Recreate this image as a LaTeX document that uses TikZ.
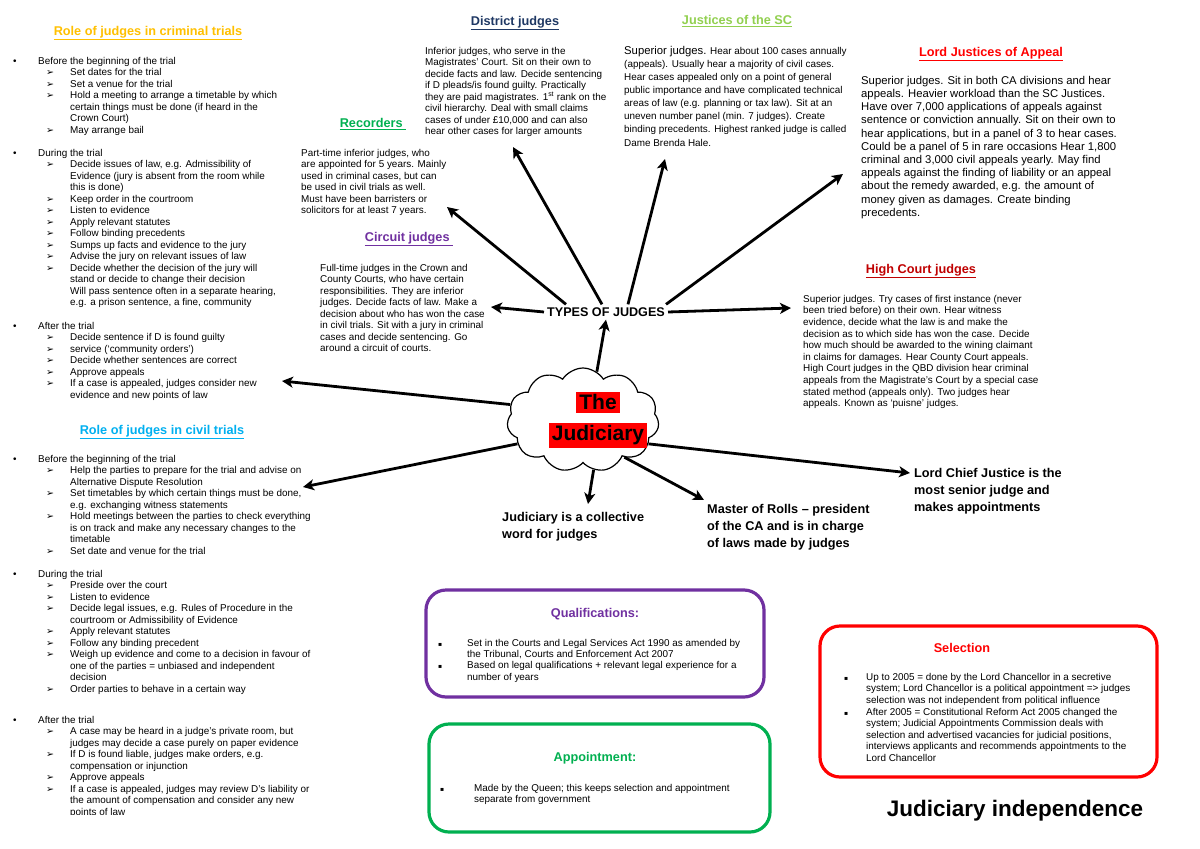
\documentclass[tikz,border=0pt]{standalone}
\usepackage{fontspec}
\setmainfont{Liberation Sans}
\newfontfamily\djv{DejaVu Sans}
\usetikzlibrary{shapes.symbols,arrows.meta}
\definecolor{orangeT}{HTML}{FFC000}
\definecolor{blueT}{HTML}{00B0F0}
\definecolor{navyT}{HTML}{1F3864}
\definecolor{greenT}{HTML}{00B050}
\definecolor{purpleT}{HTML}{7030A0}
\definecolor{limeT}{HTML}{92D050}
\definecolor{redT}{HTML}{FF0000}
\definecolor{darkredT}{HTML}{C00000}
\newcommand\arrg{{\djv\fontsize{9.5}{9.5}\selectfont ➢}}
\newcommand\sqb{{\djv\fontsize{6}{6}\selectfont ▪}}
\newcommand\lbul[1]{\makebox[25pt][l]{\textbullet}#1}
\newcommand\larr[1]{\hspace*{33pt}\makebox[24pt][l]{\arrg}#1}
\newcommand\lcon[1]{\hspace*{57pt}#1}
\newcommand\qbul[1]{\makebox[29pt][l]{\sqb}#1}
\newcommand\qcon[1]{\hspace*{29pt}#1}
\newcommand\sbul[1]{\makebox[22pt][l]{\sqb}#1}
\newcommand\scon[1]{\hspace*{22pt}#1}
\begin{document}
\begin{tikzpicture}[x=1pt,y=-1pt,
  title/.style={font=\fontsize{12.7}{15}\selectfont\bfseries, inner sep=0pt, anchor=base},
  body/.style={font=\fontsize{9.9}{11.5}\selectfont, align=left, inner sep=0pt, anchor=north west},
  bold/.style={font=\fontsize{12.7}{16.8}\selectfont\bfseries, align=left, inner sep=0pt, anchor=north west},
  arr/.style={line width=2.8pt, -{Stealth[length=11pt,width=11pt,inset=3pt]}},
  box/.style={draw, line width=3.2pt, rounded corners=20pt, fill=white}]
\useasboundingbox (0,0) rectangle (1200,849);
\fill[white] (0,0) rectangle (1200,849);

% ---------------- criminal trials
\node[title, text=orangeT] (critT) at (148,35.5) {\underline{Role of judges in criminal trials}};
\node[body] (crim1) at (13,57) {\lbul{Before the beginning of the trial}\\
\larr{Set dates for the trial}\\
\larr{Set a venue for the trial}\\
\larr{Hold a meeting to arrange a timetable by which}\\
\lcon{certain things must be done (if heard in the}\\
\lcon{Crown Court)}\\
\larr{May arrange bail}};
\node[body] (crim2) at (13,149) {\lbul{During the trial}\\
\larr{Decide issues of law, e.g. Admissibility of}\\
\lcon{Evidence (jury is absent from the room while}\\
\lcon{this is done)}\\
\larr{Keep order in the courtroom}\\
\larr{Listen to evidence}\\
\larr{Apply relevant statutes}\\
\larr{Follow binding precedents}\\
\larr{Sumps up facts and evidence to the jury}\\
\larr{Advise the jury on relevant issues of law}\\
\larr{Decide whether the decision of the jury will}\\
\lcon{stand or decide to change their decision}\\
\lcon{Will pass sentence often in a separate hearing,}\\
\lcon{e.g. a prison sentence, a fine, community}};
\node[body] (crim3) at (13,322) {\lbul{After the trial}\\
\larr{Decide sentence if D is found guilty}\\
\larr{service (‘community orders’)}\\
\larr{Decide whether sentences are correct}\\
\larr{Approve appeals}\\
\larr{If a case is appealed, judges consider new}\\
\lcon{evidence and new points of law}};

% ---------------- civil trials
\node[title, text=blueT] (civT) at (162,434.5) {\underline{Role of judges in civil trials}};
\node[body] (civ1) at (13,455) {\lbul{Before the beginning of the trial}\\
\larr{Help the parties to prepare for the trial and advise on}\\
\lcon{Alternative Dispute Resolution}\\
\larr{Set timetables by which certain things must be done,}\\
\lcon{e.g. exchanging witness statements}\\
\larr{Hold meetings between the parties to check everything}\\
\lcon{is on track and make any necessary changes to the}\\
\lcon{timetable}\\
\larr{Set date and venue for the trial}};
\node[body] (civ2) at (13,570) {\lbul{During the trial}\\
\larr{Preside over the court}\\
\larr{Listen to evidence}\\
\larr{Decide legal issues, e.g. Rules of Procedure in the}\\
\lcon{courtroom or Admissibility of Evidence}\\
\larr{Apply relevant statutes}\\
\larr{Follow any binding precedent}\\
\larr{Weigh up evidence and come to a decision in favour of}\\
\lcon{one of the parties = unbiased and independent}\\
\lcon{decision}\\
\larr{Order parties to behave in a certain way}};
\begin{scope}
\clip (0,700) rectangle (340,814);
\node[body] (civ3) at (13,716) {\lbul{After the trial}\\
\larr{A case may be heard in a judge's private room, but}\\
\lcon{judges may decide a case purely on paper evidence}\\
\larr{If D is found liable, judges make orders, e.g.}\\
\lcon{compensation or injunction}\\
\larr{Approve appeals}\\
\larr{If a case is appealed, judges may review D's liability or}\\
\lcon{the amount of compensation and consider any new}\\
\lcon{points of law}};
\end{scope}

% ---------------- judge types
\node[title, text=navyT] (disT) at (515,25.5) {\underline{District judges}};
\node[body] (dis) at (425,47) {Inferior judges, who serve in the\\
Magistrates' Court. Sit on their own to\\
decide facts and law. Decide sentencing\\
if D pleads/is found guilty. Practically\\
they are paid magistrates. 1\textsuperscript{st} rank on the\\
civil hierarchy. Deal with small claims\\
cases of under £10,000 and can also\\
hear other cases for larger amounts};

\node[title, text=greenT] (recT) at (373,127.5) {\underline{Recorders\ }};
\node[body] (rec) at (301,149) {Part-time inferior judges, who\\
are appointed for 5 years. Mainly\\
used in criminal cases, but can\\
be used in civil trials as well.\\
Must have been barristers or\\
solicitors for at least 7 years.};

\node[title, text=purpleT] (cirT) at (409,241.5) {\underline{Circuit judges\ }};
\node[body] (cir) at (320,264) {Full-time judges in the Crown and\\
County Courts, who have certain\\
responsibilities. They are inferior\\
judges. Decide facts of law. Make a\\
decision about who has won the case\\
in civil trials. Sit with a jury in criminal\\
cases and decide sentencing. Go\\
around a circuit of courts.};

\node[title, text=limeT] (scT) at (737,24.5) {\underline{Justices of the SC}};
\node[body, font=\fontsize{9.9}{13.1}\selectfont] (sc) at (624,46) {{\fontsize{11.3}{13.1}\selectfont Superior judges.} Hear about 100 cases annually\\
(appeals). Usually hear a majority of civil cases.\\
Hear cases appealed only on a point of general\\
public importance and have complicated technical\\
areas of law (e.g. planning or tax law). Sit at an\\
uneven number panel (min. 7 judges). Create\\
binding precedents. Highest ranked judge is called\\
Dame Brenda Hale.};

\node[title, text=redT] (ljaT) at (991,56.5) {\underline{Lord Justices of Appeal}};
\node[body, font=\fontsize{11.3}{13.2}\selectfont] (lja) at (861,76) {Superior judges. Sit in both CA divisions and hear\\
appeals. Heavier workload than the SC Justices.\\
Have over 7,000 applications of appeals against\\
sentence or conviction annually. Sit on their own to\\
hear applications, but in a panel of 3 to hear cases.\\
Could be a panel of 5 in rare occasions Hear 1,800\\
criminal and 3,000 civil appeals yearly. May find\\
appeals against the finding of liability or an appeal\\
about the remedy awarded, e.g. the amount of\\
money given as damages. Create binding\\
precedents.};

\node[title, text=darkredT] (hcT) at (921,273.5) {\underline{High Court judges}};
\node[body, font=\fontsize{9.9}{11.6}\selectfont] (hc) at (803,295) {Superior judges. Try cases of first instance (never\\
been tried before) on their own. Hear witness\\
evidence, decide what the law is and make the\\
decision as to which side has won the case. Decide\\
how much should be awarded to the wining claimant\\
in claims for damages. Hear County Court appeals.\\
High Court judges in the QBD division hear criminal\\
appeals from the Magistrate's Court by a special case\\
stated method (appeals only). Two judges hear\\
appeals. Known as ‘puisne' judges.};

% ---------------- centre
\node[font=\fontsize{12.6}{15}\selectfont\bfseries, inner sep=3pt] (types) at (606,312) {TYPES OF JUDGES};
\node[cloud, draw, line width=1.2pt, fill=white, cloud puffs=11, cloud puff arc=115,
      cloud ignores aspect, minimum width=152pt, minimum height=104pt] (cloud) at (583,420) {};
\node[font=\fontsize{21}{31}\selectfont\bfseries, align=center, inner sep=0pt] (jud) at (598,420)
  {\setlength{\fboxsep}{3pt}\colorbox{red}{The}\\\setlength{\fboxsep}{3pt}\colorbox{red}{Judiciary}};

\node[bold] (col) at (502,512) {Judiciary is a collective\\word for judges};
\node[bold] (mas) at (707,504) {Master of Rolls -- president\\of the CA and is in charge\\of laws made by judges};
\node[bold] (lcj) at (914,468) {Lord Chief Justice is the\\most senior judge and\\makes appointments};

% arrow tips
\coordinate (recTip) at (447,207);
\coordinate (disTip) at (513,147);
\coordinate (scTip) at (665,159);
\coordinate (ljaTip) at (843,174);
\coordinate (cirTip) at (491,307);
\coordinate (hcTip) at (791,308);
\coordinate (crimTip) at (282,381);
\coordinate (civTip) at (303,487);
\coordinate (colTip) at (588,504);
\coordinate (masTip) at (704,500);
\coordinate (lcjTip) at (910,473);

\draw[arr] ([xshift=22pt]types.north west) -- (recTip);
\draw[arr] ([xshift=-4pt]types.north) -- (disTip);
\draw[arr] ([xshift=22pt]types.north) -- (scTip);
\draw[arr] ([xshift=-2pt]types.north east) -- (ljaTip);
\draw[arr] (types.west) -- (cirTip);
\draw[arr] (types.east) -- (hcTip);
\draw[arr] (cloud.74) -- (types.south);
\draw[arr] (cloud.168) -- (crimTip);
\draw[arr] (cloud.200) -- (civTip);
\draw[arr] (cloud.282) -- (colTip);
\draw[arr] (cloud.318) -- (masTip);
\draw[arr] (cloud.340) -- (lcjTip);

% ---------------- boxes
\node[box, draw=purpleT, minimum width=338pt, minimum height=107pt] (qual) at (595,643.5) {};
\node[title, text=purpleT] (qualT) at (595,617.5) {Qualifications:};
\node[body, font=\fontsize{9.9}{11.3}\selectfont] (qualB) at (438,639) {\qbul{Set in the Courts and Legal Services Act 1990 as amended by}\\
\qcon{the Tribunal, Courts and Enforcement Act 2007}\\
\qbul{Based on legal qualifications + relevant legal experience for a}\\
\qcon{number of years}};

\node[box, draw=greenT, minimum width=341pt, minimum height=108pt] (app) at (599.5,778) {};
\node[title, text=greenT] (appT) at (595,761.5) {Appointment:};
\node[body, font=\fontsize{9.9}{11.3}\selectfont] (appB) at (440,784) {\makebox[34pt][l]{\sqb}Made by the Queen; this keeps selection and appointment\\
\hspace*{34pt}separate from government};

\node[box, draw=redT, minimum width=337pt, minimum height=151pt] (sel) at (988.5,701.5) {};
\node[title, text=redT] (selT) at (962,652.5) {Selection};
\node[body, font=\fontsize{9.9}{11.6}\selectfont] (selB) at (844,673) {\sbul{Up to 2005 = done by the Lord Chancellor in a secretive}\\
\scon{system; Lord Chancellor is a political appointment => judges}\\
\scon{selection was not independent from political influence}\\
\sbul{After 2005 = Constitutional Reform Act 2005 changed the}\\
\scon{system; Judicial Appointments Commission deals with}\\
\scon{selection and advertised vacancies for judicial positions,}\\
\scon{interviews applicants and recommends appointments to the}\\
\scon{Lord Chancellor}};

\node[font=\fontsize{22.5}{26}\selectfont\bfseries, inner sep=0pt] (indep) at (1015,811) {Judiciary independence};
\end{tikzpicture}
\end{document}
